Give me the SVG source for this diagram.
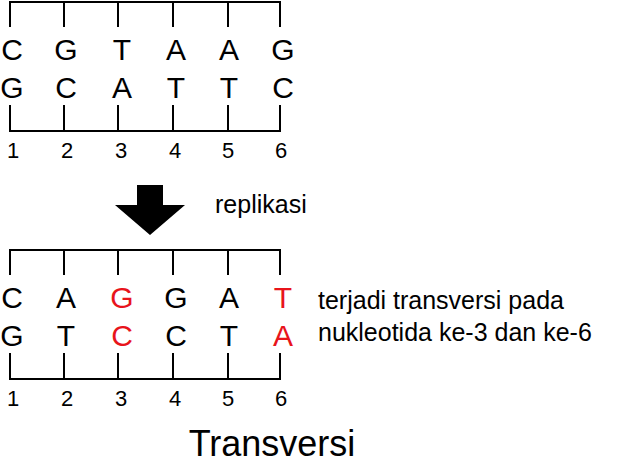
<svg xmlns="http://www.w3.org/2000/svg" width="627" height="464" viewBox="0 0 627 464">
<style>
.l{stroke:#000;stroke-width:2;fill:none}
.b{font-family:"Liberation Sans",Arial,sans-serif;font-size:30px;text-anchor:middle;fill:#000}
.n{font-family:"Liberation Sans",Arial,sans-serif;font-size:22px;text-anchor:middle;fill:#000}
.r{fill:#e8141b}
.t{font-family:"Liberation Sans",Arial,sans-serif;font-size:25px;fill:#000}
</style>
<defs>
<g id="ladder">
<path class="l" d="M10 27V2H280V27M64 2V27M118 2V27M173 2V27M228 2V27M10 105V131H280V105M64 105V131M118 105V131M173 105V131M228 105V131"/>
<text class="n" x="13" y="158">1</text><text class="n" x="67" y="158">2</text><text class="n" x="121" y="158">3</text><text class="n" x="175" y="158">4</text><text class="n" x="228" y="158">5</text><text class="n" x="281" y="158">6</text>
</g>
</defs>
<g id="top">
<use href="#ladder"/>
<text class="b" x="12" y="60">C</text><text class="b" x="66" y="60">G</text><text class="b" x="122" y="60">T</text><text class="b" x="176" y="60">A</text><text class="b" x="229" y="60">A</text><text class="b" x="283" y="60">G</text>
<text class="b" x="12" y="98">G</text><text class="b" x="66" y="98">C</text><text class="b" x="122" y="98">A</text><text class="b" x="176" y="98">T</text><text class="b" x="229" y="98">T</text><text class="b" x="283" y="98">C</text>
</g>
<g id="arrow">
<polygon points="137,185 163,185 163,205 185,205 150,235 115,205 137,205" fill="#000"/>
<text class="t" x="215" y="213">replikasi</text>
</g>
<g id="bottom" transform="translate(0,248)">
<use href="#ladder"/>
<text class="b" x="12" y="60">C</text><text class="b" x="66" y="60">A</text><text class="b r" x="122" y="60">G</text><text class="b" x="176" y="60">G</text><text class="b" x="229" y="60">A</text><text class="b r" x="283" y="60">T</text>
<text class="b" x="12" y="98">G</text><text class="b" x="66" y="98">T</text><text class="b r" x="122" y="98">C</text><text class="b" x="176" y="98">C</text><text class="b" x="229" y="98">T</text><text class="b r" x="283" y="98">A</text>
</g>
<g id="note">
<text class="t" x="318" y="309">terjadi transversi pada</text>
<text class="t" x="318" y="341">nukleotida ke-3 dan ke-6</text>
</g>
<text id="title" class="t" x="272" y="456" style="font-size:36px;text-anchor:middle">Transversi</text>
</svg>
